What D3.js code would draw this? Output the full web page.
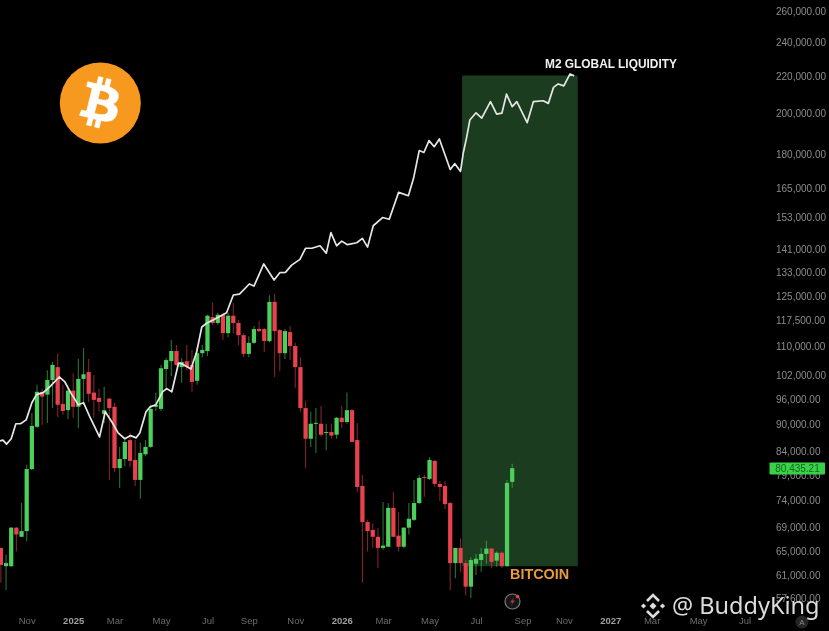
<!DOCTYPE html>
<html>
<head>
<meta charset="utf-8">
<title>Bitcoin vs M2 Global Liquidity</title>
<script src="https://cdn.jsdelivr.net/npm/d3@7/dist/d3.min.js"></script>
<style>
  html, body { margin: 0; padding: 0; background: #000; overflow: hidden; }
  svg { display: block; filter: blur(0.5px); }
  text { font-family: "Liberation Sans", Arial, sans-serif; }
</style>
</head>
<body>
<script>
// weekly candles, in thousands of dollars, first candle is 5 weeks before firstWeek
var firstWeek = new Date(Date.UTC(2024, 10, 4));
var firstCandle = -5;
var opens = [65.5,62.5,62.5,69.0,67.4,68.4,80.2,89.4,97.8,97.1,100.8,104.2,94.8,93.3,98.1,94.1,101.1,102.9,97.6,96.3,
  92.4,96.1,94.1,80.4,82.3,86.4,82.1,78.0,83.3,84.9,94.1,93.6,103.7,105.8,108.6,104.2,105.8,104.8,100.6,108.0,
  108.6,118.5,116.7,119.2,113.7,118.9,116.7,113.1,107.8,110.9,114.9,114.9,111.4,123.2,114.6,108.0,114.0,110.0,104.2,93.8,
  86.7,90.1,90.1,88.0,88.2,87.6,91.5,90.5,93.3,86.4,76.8,70.0,68.6,67.4,65.5,65.7,72.6,67.6,65.7,69.0,
  70.4,73.5,78.6,78.2,81.9,77.2,76.8,73.5,63.0,65.5,63.0,59.3,62.9,63.5,64.5,65.4,63.4,64.7,62.5,77.6];
var highs = [65.5,64.4,69.1,69.1,73.5,81.1,92.6,99.6,98.6,103.4,105.6,108.0,99.6,98.8,102.6,106.4,109.4,106.4,102.1,98.6,
  99.1,96.3,95.1,84.9,86.9,88.0,86.4,85.8,86.4,94.6,97.6,104.8,106.7,111.7,110.3,106.7,110.3,108.9,109.7,110.3,
  119.2,122.9,119.8,119.8,119.8,122.9,117.6,113.7,112.8,115.8,117.3,115.2,125.3,125.7,114.9,114.9,115.8,110.9,106.9,95.6,
  92.9,93.8,94.3,90.1,90.1,91.7,94.3,97.6,93.6,90.3,79.0,70.4,69.8,69.0,73.7,73.5,75.6,71.8,69.1,73.5,
  78.0,79.0,79.0,82.7,82.1,77.8,77.8,73.7,65.5,67.1,63.5,63.9,64.5,65.5,66.7,65.5,64.9,64.9,78.0,81.3];
var lows = [59.9,58.8,62.4,64.9,67.4,66.6,80.0,89.1,89.8,90.3,93.8,91.7,92.2,91.2,91.5,89.1,94.6,95.3,91.5,92.9,
  90.3,78.0,79.6,76.4,80.8,80.6,76.8,74.3,82.9,84.7,93.1,93.1,98.3,101.8,104.5,100.1,103.4,97.8,99.6,106.9,
  107.2,116.1,116.1,111.7,112.5,113.7,110.3,106.9,106.9,110.6,114.0,108.3,111.1,101.6,103.1,106.4,106.1,98.8,92.9,80.4,
  84.9,83.6,87.1,84.2,86.7,86.7,89.1,90.1,86.0,75.6,59.9,64.9,65.5,62.2,65.2,65.7,67.4,64.9,65.5,67.8,
  70.2,73.3,74.7,78.0,76.6,73.9,72.4,58.8,60.6,61.6,58.0,57.6,61.1,61.6,62.9,62.2,62.4,62.2,62.5,76.4];
var closes = [62.7,63.0,69.0,67.8,68.4,80.2,89.6,97.8,96.6,100.8,104.8,94.6,93.1,98.1,94.1,101.1,102.3,97.3,95.8,95.3,
  93.3,93.8,80.4,82.3,86.0,81.9,78.0,83.6,84.9,93.6,94.6,103.9,106.1,108.6,104.8,105.6,104.2,100.3,108.0,108.9,
  118.9,116.7,119.2,113.7,118.9,116.7,113.1,107.8,110.9,114.9,114.3,111.4,123.2,114.3,108.0,114.3,110.0,104.2,93.8,86.7,
  90.1,90.3,87.6,88.2,87.4,91.5,90.5,93.3,86.0,76.6,70.0,68.4,67.4,65.5,65.9,72.6,67.4,65.7,69.0,70.6,
  73.5,78.4,78.4,82.1,77.2,76.6,73.3,63.0,65.5,63.0,59.3,63.5,63.7,64.5,65.4,63.2,64.7,62.5,77.4,80.4];

// M2 line vertices: week number after firstWeek and value on the same price axis
var m2Weeks = [-5.2,-4.6,-3.9,-3,-2.1,-1.2,-0.1,1,1.9,3.2,4.5,6.3,7.4,8.5,10,11,12.3,14.1,15.2,16.5,
  17.7,19,20.1,21.2,21.9,23.1,23.9,25,26.3,27.1,28.1,29.4,30.2,31.8,32.9,33.9,34.9,36.1,38.7,40,
  41.2,43.1,44,45.9,47.9,49,50.1,51.3,52.9,54,55.2,56.8,58,58.9,60,61,62.1,63.9,65,66,
  67.1,68.9,70.2,72,73.9,74.9,76,76.9,77.9,78.9,79.9,82,82.9,84,84.5,85.2,85.8,87,88.1,89.8,
  91,92,92.9,94,94.9,96.9,98.1,100,101,102,102.9,104,105.2,106];
var m2Values = [86.2,86.4,85.5,86.7,90.1,90.1,91.0,95.1,97.1,97.6,99.1,101.6,100.3,97.6,94.6,95.1,91.5,87.1,92.9,90.5,
  88.0,86.7,87.4,86.9,88.0,92.9,94.1,94.6,97.8,98.6,97.8,105.3,105.0,103.7,108.3,115.5,116.7,117.6,119.8,125.4,
  125.7,129.0,128.3,135.8,130.3,132.8,132.9,135.4,137.4,141.4,141.4,142.3,139.6,147.2,142.3,144.0,142.7,143.4,145.0,141.8,
  149.8,153.0,152.3,163.2,161.8,169.2,181.7,180.8,186.4,183.5,187.2,173.1,175.7,172.2,180.2,188.2,196.5,200.2,197.5,206.0,
  199.5,200.0,210.0,203.4,206.0,195.2,206.0,206.5,205.1,213.7,215.6,214.5,221.2,220.1];

var priceTicks = [260000,240000,220000,200000,180000,165000,153000,141000,133000,125000,117500,110000,
  102000,96000,90000,84000,79000,74000,69000,65000,61000,57600];
var monthTicks = ["2024-11-04","2025-01-06","2025-03-03","2025-05-05","2025-07-07","2025-09-01","2025-11-03",
  "2026-01-05","2026-03-02","2026-05-04","2026-07-06","2026-09-07","2026-11-02","2027-01-04","2027-03-01",
  "2027-05-03","2027-07-05"];
var lastPrice = 80435.21;
var bandWeeks = [84.3, 106.7];
var bandPrices = [62500, 220300];

var width = 829, height = 631;
var weekMs = 7 * 24 * 3600 * 1000;
function weekDate(w) { return new Date(+firstWeek + w * weekMs); }

var x = d3.scaleUtc().domain([weekDate(0), weekDate(139)]).range([26.7, 744.6]);
var y = d3.scaleLog().domain([57600, 260000]).range([598, 11]);
var weekW = x(weekDate(1)) - x(weekDate(0));

var svg = d3.select("body").append("svg")
  .attr("width", width).attr("height", height)
  .style("background", "#000");

// highlighted band
svg.append("rect")
  .attr("x", x(weekDate(bandWeeks[0])))
  .attr("y", y(bandPrices[1]))
  .attr("width", x(weekDate(bandWeeks[1])) - x(weekDate(bandWeeks[0])))
  .attr("height", y(bandPrices[0]) - y(bandPrices[1]))
  .attr("fill", "#1c3c1f");

// candles
var candles = opens.map(function(o, i) {
  return { date: weekDate(firstCandle + i), o: o * 1000, h: highs[i] * 1000, l: lows[i] * 1000, c: closes[i] * 1000 };
});
var upColor = "#4ccf5c", downColor = "#e8424e";
var gc = svg.append("g").selectAll("g").data(candles).join("g");
gc.append("line")
  .attr("x1", function(d) { return x(d.date); })
  .attr("x2", function(d) { return x(d.date); })
  .attr("y1", function(d) { return y(d.h); })
  .attr("y2", function(d) { return y(d.l); })
  .attr("stroke", function(d) { return d.c >= d.o ? upColor : downColor; })
  .attr("stroke-opacity", 0.55)
  .attr("stroke-width", 1.1);
gc.append("rect")
  .attr("x", function(d) { return x(d.date) - weekW * 0.41; })
  .attr("width", weekW * 0.82)
  .attr("y", function(d) { return y(Math.max(d.o, d.c)); })
  .attr("height", function(d) { return Math.max(1, Math.abs(y(d.o) - y(d.c))); })
  .attr("fill", function(d) { return d.c >= d.o ? upColor : downColor; });

// M2 line
var m2Line = d3.line()
  .x(function(w) { return x(weekDate(w)); })
  .y(function(w, i) { return y(m2Values[i] * 1000); });
svg.append("path")
  .attr("d", m2Line(m2Weeks))
  .attr("fill", "none")
  .attr("stroke", "#e6e6e6")
  .attr("stroke-width", 1.7)
  .attr("stroke-linejoin", "round");

// price axis
var yAxis = d3.axisRight(y).tickValues(priceTicks).tickSize(0).tickPadding(0).tickFormat(d3.format(",.2f"));
var gy = svg.append("g").attr("transform", "translate(776,0)").call(yAxis);
gy.select(".domain").remove();
gy.selectAll("text").attr("fill", "#8c8c8c").attr("font-size", 10)
  .style("font-family", '"Liberation Sans", Arial, sans-serif');

// time axis
var xAxis = d3.axisBottom(x)
  .tickValues(monthTicks.map(function(s) { return new Date(s + "T00:00:00Z"); }))
  .tickSize(0).tickPadding(0)
  .tickFormat(function(d) { return d.getUTCMonth() === 0 ? d.getUTCFullYear() : d3.utcFormat("%b")(d); });
var gx = svg.append("g").attr("transform", "translate(0,617.5)").call(xAxis);
gx.select(".domain").remove();
gx.selectAll("text")
  .attr("font-size", 9.5)
  .style("font-family", '"Liberation Sans", Arial, sans-serif')
  .attr("fill", function(d) { return d.getUTCMonth() === 0 ? "#a0a0a0" : "#6c6c6c"; })
  .attr("font-weight", function(d) { return d.getUTCMonth() === 0 ? "bold" : "normal"; });

// last price tag
svg.append("rect").attr("x", 769.5).attr("y", y(lastPrice) - 5.5).attr("width", 55.5).attr("height", 12)
  .attr("rx", 1).attr("fill", "#3ad04a");
svg.append("text").attr("x", 797.5).attr("y", y(lastPrice) + 4)
  .attr("text-anchor", "middle").attr("font-size", 10).attr("fill", "#0c6a1a")
  .text(d3.format(",.2f")(lastPrice));

// series labels
svg.append("text").attr("x", 545).attr("y", 68).attr("font-size", 11.9).attr("font-weight", "bold")
  .attr("fill", "#f0f0f0").text("M2 GLOBAL LIQUIDITY");
svg.append("text").attr("x", 510).attr("y", 579).attr("font-size", 14.4).attr("font-weight", "bold")
  .attr("fill", "#e89a3c").text("BITCOIN");

// bitcoin logo
var logo = svg.append("g").attr("transform", "translate(59.8,62.5) scale(1.266)");
logo.append("circle").attr("cx", 32).attr("cy", 32).attr("r", 32).attr("fill", "#f7981f");
logo.append("path").attr("fill", "#fff").attr("stroke", "#fff").attr("stroke-width", 0.6)
  .attr("d", "M46.1 27.441c.638-4.258-2.605-6.547-7.038-8.074l1.438-5.768-3.511-.875-1.4 5.616c-.923-.23-1.871-.447-2.813-.662l1.41-5.653-3.509-.875-1.439 5.766c-.764-.174-1.514-.346-2.242-.527l.004-.018-4.842-1.209-.934 3.75s2.605.597 2.55.634c1.422.355 1.679 1.296 1.636 2.042l-1.638 6.571c.098.025.225.061.365.117l-.371-.092-2.296 9.205c-.174.432-.615 1.08-1.609.834.035.051-2.552-.637-2.552-.637l-1.743 4.019 4.569 1.139c.85.213 1.683.436 2.503.646l-1.453 5.834 3.507.875 1.44-5.772c.958.26 1.888.5 2.798.726l-1.434 5.745 3.511.875 1.453-5.823c5.987 1.133 10.489.676 12.384-4.739 1.527-4.36-.076-6.875-3.226-8.515 2.294-.529 4.022-2.038 4.483-5.155zM38.08 38.69c-1.085 4.36-8.426 2.003-10.806 1.412l1.928-7.729c2.38.594 10.012 1.77 8.878 6.317zm1.086-11.312c-.99 3.966-7.1 1.951-9.082 1.457l1.748-7.01c1.982.494 8.561 1.416 7.334 5.553z");

// small flash icon under the chart
var flash = svg.append("g").attr("transform", "translate(512.5,601.5)");
flash.append("circle").attr("r", 7.5).attr("fill", "#161616").attr("stroke", "#7a7a7a").attr("stroke-width", 1.2);
flash.append("path").attr("d", "M1.5,-4.5 L-2.5,1 L0,1 L-1.5,4.5 L2.5,-1 L0,-1 Z").attr("fill", "#a33a3a");
flash.append("circle").attr("cx", 5).attr("cy", -5).attr("r", 1.8).attr("fill", "#e04848");

// circled A at bottom right
svg.append("circle").attr("cx", 802).attr("cy", 622).attr("r", 6.5).attr("fill", "#262626");
svg.append("text").attr("x", 802).attr("y", 625).attr("text-anchor", "middle").attr("font-size", 8)
  .attr("fill", "#8a8a8a").text("A");

// watermark
var mark = svg.append("g").attr("transform", "translate(653,606)").attr("fill", "none")
  .attr("stroke", "#dcdcdc").attr("stroke-width", 2.6);
mark.append("path").attr("d", "M0,-3.5 L3.5,0 L0,3.5 L-3.5,0 Z").attr("fill", "#dcdcdc").attr("stroke", "none");
mark.append("path").attr("d", "M-9.5,-2.6 L-6.9,0 L-9.5,2.6 L-12.1,0 Z").attr("fill", "#dcdcdc").attr("stroke", "none");
mark.append("path").attr("d", "M9.5,-2.6 L12.1,0 L9.5,2.6 L6.9,0 Z").attr("fill", "#dcdcdc").attr("stroke", "none");
mark.append("path").attr("d", "M-6,-5 L0,-11 L6,-5");
mark.append("path").attr("d", "M-6,5 L0,11 L6,5");
svg.append("text").attr("x", 672).attr("y", 614).attr("font-size", 23.5)
  .attr("fill", "#dcdcdc").style("font-family", '"Noto Sans", sans-serif').text("@ BuddyKing");
</script>
</body>
</html>
